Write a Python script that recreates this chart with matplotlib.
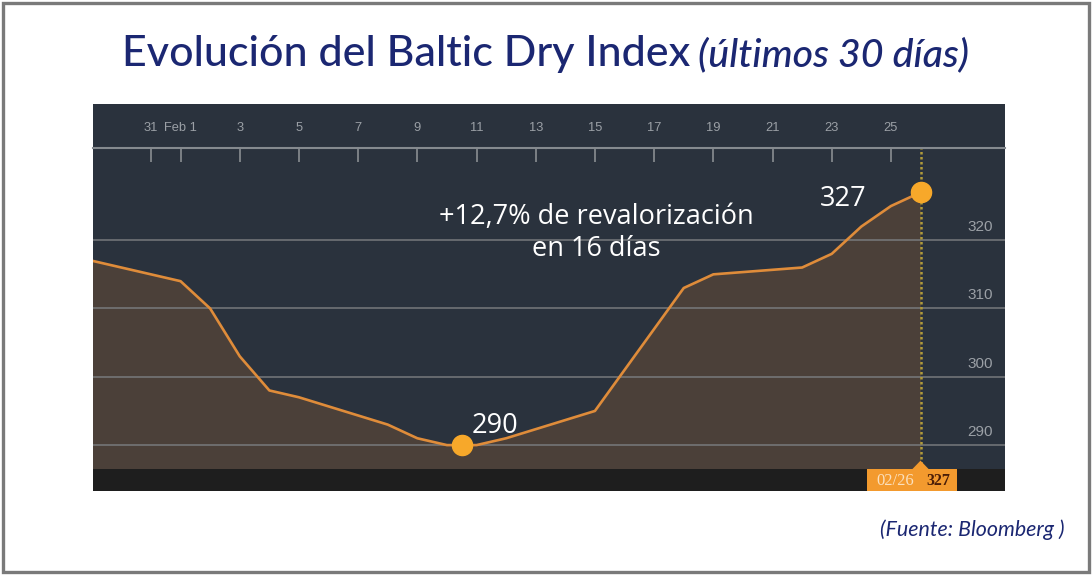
import matplotlib
matplotlib.use('Agg')
import matplotlib.pyplot as plt
import matplotlib.transforms as mtransforms
import matplotlib.dates as mdates
from matplotlib.patches import Rectangle, Polygon
import pandas as pd
import numpy as np

# Baltic Dry Index, business days
dates = ['2016-01-29', '2016-02-01', '2016-02-02', '2016-02-03', '2016-02-04',
         '2016-02-05', '2016-02-08', '2016-02-09', '2016-02-10', '2016-02-11',
         '2016-02-12', '2016-02-15', '2016-02-16', '2016-02-17', '2016-02-18',
         '2016-02-19', '2016-02-22', '2016-02-23', '2016-02-24', '2016-02-25',
         '2016-02-26']
bdi = [317, 314, 310, 303, 298, 297, 293, 291, 290, 290,
       291, 295, 301, 307, 313, 315, 316, 318, 322, 325, 327]
tick_days = ['2016-01-31', '2016-02-01', '2016-02-03', '2016-02-05', '2016-02-07',
             '2016-02-09', '2016-02-11', '2016-02-13', '2016-02-15', '2016-02-17',
             '2016-02-19', '2016-02-21', '2016-02-23', '2016-02-25']
tick_labels = ['31', 'Feb 1', '3', '5', '7', '9', '11', '13', '15', '17', '19', '21', '23', '25']
y_grid = [290, 300, 310, 320]

title_main = 'Evolución del Baltic Dry Index'
title_sub = '(últimos 30 días)'
note = '+12,7% de revalorización\nen 16 días'
source = '(Fuente: Bloomberg )'

PANEL = '#2a323d'
FILL = '#4b4039'
LINE = '#df8c3a'
DOT = '#f7a82a'
STRIP = '#1e1e1e'
GRID = '#7b7d80'
NAVY = '#1b2772'

W, H = 1092, 575
fig = plt.figure(figsize=(W / 100, H / 100), dpi=100)
fig.patch.set_facecolor('white')

def fx(px):
    return px / W
def fy(py):
    return 1 - py / H

# outer frame and chart panel
fig.patches.append(Rectangle((fx(3), fy(572)), fx(1086), 569 / H, transform=fig.transFigure,
                             fill=False, edgecolor='#7a7a7a', linewidth=2.4, zorder=-2))
fig.patches.append(Rectangle((fx(93), fy(491)), fx(912), 387 / H, transform=fig.transFigure,
                             facecolor=PANEL, edgecolor='none', zorder=-2))

t = mdates.date2num(pd.to_datetime(dates))
v = np.array(bdi)

ax = fig.add_axes([fx(93), fy(469), fx(912), 321 / H])
ax.set_facecolor(PANEL)
x0 = mdates.date2num(pd.Timestamp('2016-01-29 01:00'))
x1 = mdates.date2num(pd.Timestamp('2016-02-28 20:30'))
ax.set_xlim(x0, x1)
ax.set_ylim(286.5, 333.5)

ax.fill_between(t, v, 280, color=FILL, linewidth=0, zorder=1)
for g in y_grid:
    ax.axhline(g, color=GRID, linewidth=1.3, alpha=0.8, zorder=2)
ax.plot(t, v, color=LINE, linewidth=1.9, zorder=3, solid_joinstyle='round')

# last-value dotted marker line
ax.axvline(t[-1], color='#b29c3a', linewidth=1.8, linestyle=(0, (1, 1)), zorder=2.5, clip_on=False)

# markers for minimum and last value
vmin = v.min()
tmin = t[v == vmin].mean()
ax.plot([tmin], [vmin], 'o', color=DOT, markersize=14.5, zorder=5)
ax.plot([t[-1]], [v[-1]], 'o', color=DOT, markersize=14.5, zorder=5)
ax.annotate(str(vmin), xy=(tmin, vmin), xytext=(7, 14), textcoords='offset points',
            ha='left', va='center', color='white', fontsize=19.5, family='Open Sans', zorder=6)
ax.annotate(str(v[-1]), xy=(t[-1], v[-1]), xytext=(-39, -5), textcoords='offset points',
            ha='right', va='center', color='white', fontsize=19.5, family='Open Sans', zorder=6)

# y labels on the right, above the grid lines
blend = mtransforms.blended_transform_factory(ax.transAxes, ax.transData)
for g in y_grid:
    ax.annotate(str(g), xy=(0.9725, g), xycoords=blend, xytext=(0, 9.5), textcoords='offset points',
                ha='center', va='center', color='#9ba0a6', fontsize=11, family='Liberation Sans')

# x axis on top
ax.xaxis.tick_top()
ax.set_xticks(mdates.date2num(pd.to_datetime(tick_days)))
ax.set_xticklabels(tick_labels)
ax.tick_params(axis='x', direction='in', length=10, width=1.2, color='#8a8e92',
               labelcolor='#9ba0a6', labelsize=9.3, pad=10)
for lab in ax.get_xticklabels():
    lab.set_family('Liberation Sans')
ax.set_yticks([])
for s in ['left', 'right', 'bottom']:
    ax.spines[s].set_visible(False)
ax.spines['top'].set_color('#858a8f')
ax.spines['top'].set_linewidth(1.5)

# bottom strip with the value tag
axb = fig.add_axes([fx(93), fy(491), fx(912), 22 / H], sharex=ax)
axb.set_facecolor(STRIP)
axb.set_ylim(0, 1)
axb.axis('off')
axb.add_patch(Rectangle((0, 0), 1, 1, transform=axb.transAxes, facecolor=STRIP, edgecolor='none'))
axb.add_patch(Rectangle((t[-1] - 1.8, 0), 3.03, 1.0, facecolor='#f39a2e',
                        edgecolor='none', zorder=3))
axb.add_patch(Polygon([(t[-1] - 0.28, 0.99), (t[-1] + 0.28, 0.99), (t[-1], 1.38)],
                      closed=True, facecolor='#f39a2e', edgecolor='none', zorder=3, clip_on=False))
axb.text(t[-1] - 0.85, 0.45, '02/26', ha='center', va='center', color='#fbe0bd',
         fontsize=12, family='Liberation Serif', zorder=4)
axb.text(t[-1] + 0.6, 0.45, str(v[-1]), ha='center', va='center', color='#4a1e08',
         fontsize=11.5, family='Liberation Serif', fontweight='bold', zorder=4)

# texts
fig.text(fx(596), fy(233), note, ha='center', va='center', color='white', fontsize=19.5,
         family='Open Sans', linespacing=1.2)
tm = fig.text(fx(122), fy(66), title_main, ha='left', va='baseline', color=NAVY,
              fontsize=31, family='Lato', fontweight='medium')
fig.canvas.draw()
bb = tm.get_window_extent()
fig.text((bb.x1 + 8) / W, fy(66), title_sub, ha='left', va='baseline', color=NAVY,
         fontsize=28.4, family='Lato', style='italic', fontweight='medium')
fig.text(fx(1065), fy(530), source, ha='right', va='center', color=NAVY,
         fontsize=15.4, family='Lato', style='italic')

fig.savefig('out.png', dpi=100, facecolor='white')
